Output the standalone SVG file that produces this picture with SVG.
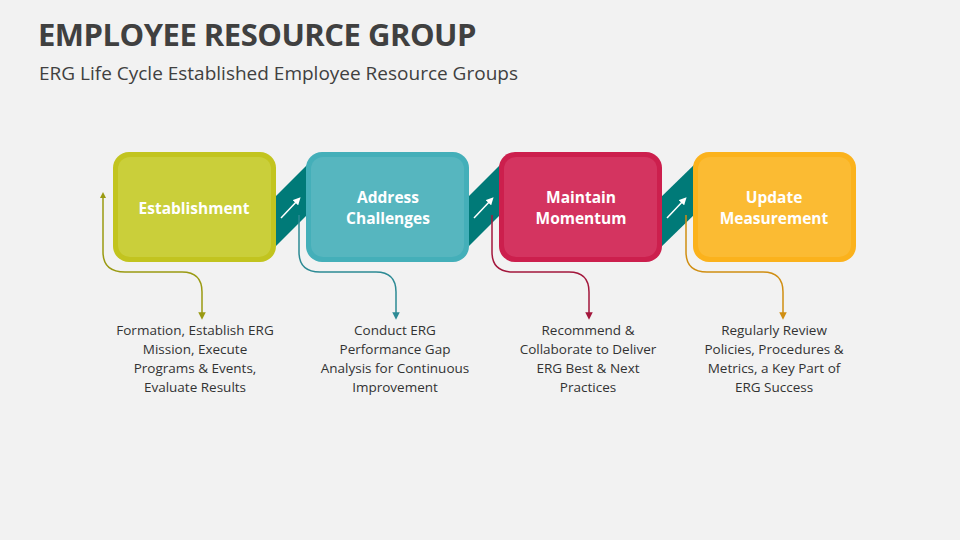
<svg xmlns="http://www.w3.org/2000/svg" width="960" height="540" viewBox="0 0 960 540">
<defs>
<style>
text{font-family:"Open Sans","Liberation Sans",sans-serif}
.t{font-size:31px;font-weight:bold;fill:#404040;letter-spacing:-0.5px}
.s{font-size:19px;fill:#404040}
.n{font-size:15.5px;font-weight:bold;fill:#fff;text-anchor:middle}
.d{font-size:13.5px;fill:#333;text-anchor:middle}
.band{fill:#007a78}
.w{stroke:#fff;stroke-width:1.5;fill:none}
.c{fill:none;stroke-width:1.5}
</style>
<marker id="ah" viewBox="0 0 10 10" refX="5" refY="5" markerWidth="5" markerHeight="5" orient="auto"><path d="M0,0L10,5L0,10z" fill="context-stroke"/></marker>
<marker id="aw" viewBox="0 0 10 10" refX="5" refY="5" markerWidth="5" markerHeight="5" orient="auto"><path d="M0,0L10,5L0,10z" fill="#fff"/></marker>
<marker id="dot" viewBox="0 0 10 10" refX="5" refY="5" markerWidth="4" markerHeight="4"><circle cx="5" cy="5" r="4" fill="context-stroke"/></marker>
</defs>
<rect width="960" height="540" fill="#f2f2f2"/>
<text class="t" x="38" y="46">EMPLOYEE RESOURCE GROUP</text>
<text class="s" x="39" y="80">ERG Life Cycle Established Employee Resource Groups</text>
<g id="connectors">
<path class="band" d="M272,200 L310,162 L310,212 L272,250Z"/>
<path class="w" d="M281,218 L298,200" marker-end="url(#aw)"/>
<path class="band" d="M465,200 L503,162 L503,212 L465,250Z"/>
<path class="w" d="M474,218 L491,200" marker-end="url(#aw)"/>
<path class="band" d="M658,200 L697,162 L697,212 L658,250Z"/>
<path class="w" d="M667,218 L684,200" marker-end="url(#aw)"/>
<path class="c" stroke="#9a9a12" d="M103,197 V252 Q103,272 125,272 H182 Q202,272 202,292 V316" marker-start="url(#ah)" marker-end="url(#ah)" style="marker-start:none"/>
<path d="M100,198 L103,192 L106,198Z" fill="#9a9a12"/>
<path class="c" stroke="#2c8a94" d="M299,215 V252 Q299,272 320,272 H376 Q396,272 396,292 V316" marker-end="url(#ah)"/>
<path class="c" stroke="#a3173c" d="M492,215 V252 Q492,272 513,272 H569 Q589,272 589,292 V316" marker-end="url(#ah)"/>
<path class="c" stroke="#d08e12" d="M686,215 V252 Q686,272 707,272 H763 Q783,272 783,292 V316" marker-end="url(#ah)"/>
</g>
<g id="n1"><rect x="113" y="152" width="163" height="110" rx="16" fill="#c2c41f"/><rect x="118" y="157" width="153" height="100" rx="12" fill="#cacf3a"/><text class="n" x="194" y="214">Establishment</text></g>
<g id="n2"><rect x="306" y="152" width="163" height="110" rx="16" fill="#44afb9"/><rect x="311" y="157" width="153" height="100" rx="12" fill="#56b6bf"/><text class="n" x="388" y="203">Address</text><text class="n" x="388" y="224">Challenges</text></g>
<g id="n3"><rect x="499" y="152" width="163" height="110" rx="16" fill="#cc1f4d"/><rect x="504" y="157" width="153" height="100" rx="12" fill="#d43460"/><text class="n" x="581" y="203">Maintain</text><text class="n" x="581" y="224">Momentum</text></g>
<g id="n4"><rect x="693" y="152" width="163" height="110" rx="16" fill="#fbb21c"/><rect x="698" y="157" width="153" height="100" rx="12" fill="#fbbb33"/><text class="n" x="774" y="203">Update</text><text class="n" x="774" y="224">Measurement</text></g>
<g id="d1"><text class="d" x="195" y="335">Formation, Establish ERG</text><text class="d" x="195" y="354">Mission, Execute</text><text class="d" x="195" y="373">Programs &amp; Events,</text><text class="d" x="195" y="392">Evaluate Results</text></g>
<g id="d2"><text class="d" x="395" y="335">Conduct ERG</text><text class="d" x="395" y="354">Performance Gap</text><text class="d" x="395" y="373">Analysis for Continuous</text><text class="d" x="395" y="392">Improvement</text></g>
<g id="d3"><text class="d" x="588" y="335">Recommend &amp;</text><text class="d" x="588" y="354">Collaborate to Deliver</text><text class="d" x="588" y="373">ERG Best &amp; Next</text><text class="d" x="588" y="392">Practices</text></g>
<g id="d4"><text class="d" x="774" y="335">Regularly Review</text><text class="d" x="774" y="354">Policies, Procedures &amp;</text><text class="d" x="774" y="373">Metrics, a Key Part of</text><text class="d" x="774" y="392">ERG Success</text></g>
</svg>
